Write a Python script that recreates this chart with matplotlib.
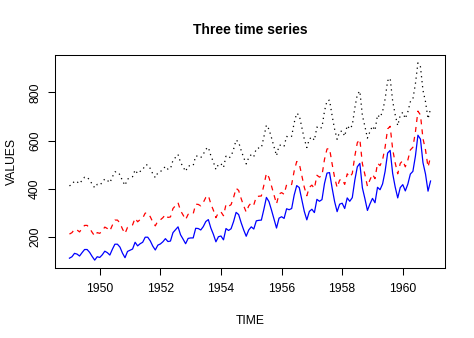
import matplotlib

matplotlib.use("Agg")
import matplotlib.pyplot as plt
import numpy as np

plt.rcParams["font.family"] = ["Liberation Sans", "DejaVu Sans"]

# monthly series, Jan 1949 .. Dec 1960
start_year = 1949
passengers = [
    112, 118, 132, 129, 121, 135, 148, 148, 136, 119, 104, 118,
    115, 126, 141, 135, 125, 149, 170, 170, 158, 133, 114, 140,
    145, 150, 178, 163, 172, 178, 199, 199, 184, 162, 146, 166,
    171, 180, 193, 181, 183, 218, 230, 242, 209, 191, 172, 194,
    196, 196, 236, 235, 229, 243, 264, 272, 237, 211, 180, 201,
    204, 188, 235, 227, 234, 264, 302, 293, 259, 229, 203, 229,
    242, 233, 267, 269, 270, 315, 364, 347, 312, 274, 237, 278,
    284, 277, 317, 313, 318, 374, 413, 405, 355, 306, 271, 306,
    315, 301, 356, 348, 355, 422, 465, 467, 404, 347, 305, 336,
    340, 318, 362, 348, 363, 435, 491, 505, 404, 359, 310, 337,
    360, 342, 406, 396, 420, 472, 548, 559, 463, 407, 362, 405,
    417, 391, 419, 461, 472, 535, 622, 606, 508, 461, 390, 432,
]
shifted_100 = [
    212, 218, 232, 229, 221, 235, 248, 248, 236, 219, 204, 218,
    215, 226, 241, 235, 225, 249, 270, 270, 258, 233, 214, 240,
    245, 250, 278, 263, 272, 278, 299, 299, 284, 262, 246, 266,
    271, 280, 293, 281, 283, 318, 330, 342, 309, 291, 272, 294,
    296, 296, 336, 335, 329, 343, 364, 372, 337, 311, 280, 301,
    304, 288, 335, 327, 334, 364, 402, 393, 359, 329, 303, 329,
    342, 333, 367, 369, 370, 415, 464, 447, 412, 374, 337, 378,
    384, 377, 417, 413, 418, 474, 513, 505, 455, 406, 371, 406,
    415, 401, 456, 448, 455, 522, 565, 567, 504, 447, 405, 436,
    440, 418, 462, 448, 463, 535, 591, 605, 504, 459, 410, 437,
    460, 442, 506, 496, 520, 572, 648, 659, 563, 507, 462, 505,
    517, 491, 519, 561, 572, 635, 722, 706, 608, 561, 490, 532,
]
shifted_300 = [
    412, 418, 432, 429, 421, 435, 448, 448, 436, 419, 404, 418,
    415, 426, 441, 435, 425, 449, 470, 470, 458, 433, 414, 440,
    445, 450, 478, 463, 472, 478, 499, 499, 484, 462, 446, 466,
    471, 480, 493, 481, 483, 518, 530, 542, 509, 491, 472, 494,
    496, 496, 536, 535, 529, 543, 564, 572, 537, 511, 480, 501,
    504, 488, 535, 527, 534, 564, 602, 593, 559, 529, 503, 529,
    542, 533, 567, 569, 570, 615, 664, 647, 612, 574, 537, 578,
    584, 577, 617, 613, 618, 674, 713, 705, 655, 606, 571, 606,
    615, 601, 656, 648, 655, 722, 765, 767, 704, 647, 605, 636,
    640, 618, 662, 648, 663, 735, 791, 805, 704, 659, 610, 637,
    660, 642, 706, 696, 720, 772, 848, 859, 763, 707, 662, 705,
    717, 691, 719, 761, 772, 835, 922, 906, 808, 761, 690, 732,
]
x_ticks = [1950, 1952, 1954, 1956, 1958, 1960]
y_ticks = [200, 400, 600, 800]

t = start_year + np.arange(len(passengers)) / 12

fig = plt.figure(figsize=(4.74, 3.38), dpi=100)
ax = fig.add_axes([55 / 474, 70 / 338, 390 / 474, 213 / 338])

ax.plot(t, passengers, color="blue", lw=0.9, ls="-")
ax.plot(t, shifted_100, color="red", lw=0.9, dashes=(4, 4))
ax.plot(t, shifted_300, color="black", lw=0.9, dashes=(1, 3))

# R style 4% padding
ymin, ymax = min(passengers), max(shifted_300)
xmin, xmax = t[0], t[-1]
ax.set_xlim(xmin - 0.04 * (xmax - xmin), xmax + 0.04 * (xmax - xmin))
ax.set_ylim(ymin - 0.04 * (ymax - ymin), ymax + 0.04 * (ymax - ymin))

ax.set_xticks(x_ticks)
ax.set_yticks(y_ticks)
ax.set_yticklabels([str(v) for v in y_ticks], rotation=90, va="center")
ax.tick_params(direction="out", length=5, width=0.75, labelsize=8.7)
ax.tick_params(axis="x", pad=6)
ax.tick_params(axis="y", pad=5)
for s in ax.spines.values():
    s.set_linewidth(0.75)

ax.set_xlabel("TIME", fontsize=8.7, labelpad=14)
ax.set_ylabel("VALUES", fontsize=8.7, labelpad=8)
ax.set_title("Three time series", fontsize=10, fontweight="bold", pad=15)

fig.savefig("out.png", dpi=100)
